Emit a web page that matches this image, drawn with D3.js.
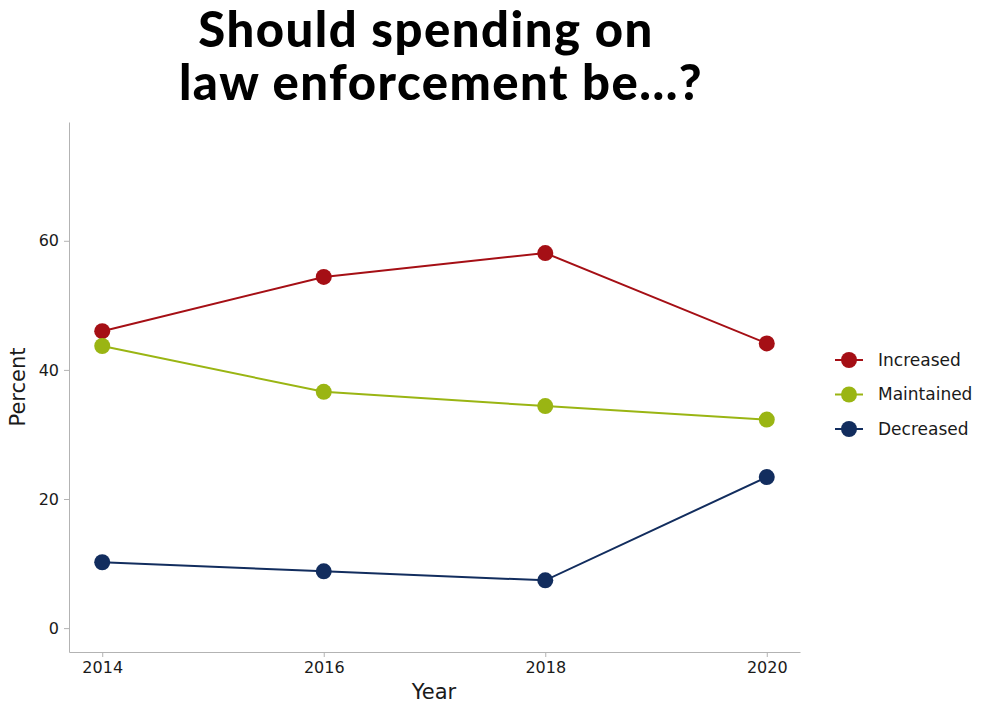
<!DOCTYPE html>
<html>
<head>
<meta charset="utf-8">
<script src="https://cdn.jsdelivr.net/npm/d3@7"></script>
<style>
  body { margin: 0; background: #fff; }
  text { font-family: "DejaVu Sans", sans-serif; }
</style>
</head>
<body>
<svg id="plot" width="1000" height="714"></svg>
<script>
const years = [2014, 2016, 2018, 2020];
const increased = [46.0, 54.4, 58.1, 44.1];
const maintained = [43.7, 36.6, 34.4, 32.3];
const decreased = [10.2, 8.8, 7.4, 23.4];
const seriesNames = ["Increased", "Maintained", "Decreased"];
const seriesColors = ["#a50f15", "#9ab513", "#122d5e"];

const series = [increased, maintained, decreased].map((vals, i) => ({
  name: seriesNames[i],
  color: seriesColors[i],
  values: vals.map((v, j) => ({ year: years[j], value: v }))
}));

const svg = d3.select("#plot");

const x = d3.scaleLinear().domain([2013.7, 2020.3]).range([69, 800]);
const y = d3.scaleLinear().domain([-3.7, 78.4]).range([652, 122]);

// title
const titleLines = [["Should spending on", 426, 47], ["law enforcement be...?", 441, 100]];
titleLines.forEach(([t, tx, ty]) => {
  svg.append("text")
    .attr("x", tx).attr("y", ty)
    .attr("text-anchor", "middle")
    .style("font-family", "'Lato', sans-serif")
    .style("font-weight", 900)
    .style("font-size", "49px")
    .style("letter-spacing", "1.5px")
    .text(t);
});

// axes
const xAxis = svg.append("g")
  .attr("transform", "translate(0,652)")
  .call(d3.axisBottom(x).tickValues(years).tickFormat(d3.format("d"))
    .tickSize(5).tickSizeOuter(0).tickPadding(5));
const yAxis = svg.append("g")
  .attr("transform", "translate(69,0)")
  .call(d3.axisLeft(y).tickValues([0, 20, 40, 60])
    .tickSize(5).tickSizeOuter(0).tickPadding(5));

[xAxis, yAxis].forEach(g => {
  g.selectAll("path, line").attr("stroke", "#b3b3b3");
  g.selectAll("text").style("font-size", "16px").style("font-family", "'DejaVu Sans', sans-serif").attr("fill", "#1a1a1a");
});

svg.append("text")
  .attr("x", 434).attr("y", 699)
  .attr("text-anchor", "middle")
  .style("font-size", "21px")
  .attr("fill", "#1a1a1a")
  .text("Year");
svg.append("text")
  .attr("transform", "translate(25,387) rotate(-90)")
  .attr("text-anchor", "middle")
  .style("font-size", "21px")
  .attr("fill", "#1a1a1a")
  .text("Percent");

// lines and points
const line = d3.line().x(d => x(d.year)).y(d => y(d.value));

series.forEach(s => {
  svg.append("path")
    .datum(s.values)
    .attr("fill", "none")
    .attr("stroke", s.color)
    .attr("stroke-width", 2)
    .attr("d", line);
  svg.selectAll(null)
    .data(s.values)
    .enter()
    .append("circle")
    .attr("cx", d => x(d.year))
    .attr("cy", d => y(d.value))
    .attr("r", 8)
    .attr("fill", s.color);
});

// legend
const legend = svg.append("g").attr("transform", "translate(835,360)");
series.forEach((s, i) => {
  const g = legend.append("g").attr("transform", `translate(0,${i * 34.5})`);
  g.append("line").attr("x1", 0).attr("x2", 28).attr("stroke", s.color).attr("stroke-width", 2);
  g.append("circle").attr("cx", 14).attr("r", 8).attr("fill", s.color);
  g.append("text")
    .attr("x", 43).attr("dy", "0.35em")
    .style("font-size", "17px")
    .attr("fill", "#1a1a1a")
    .text(s.name);
});
</script>
</body>
</html>
